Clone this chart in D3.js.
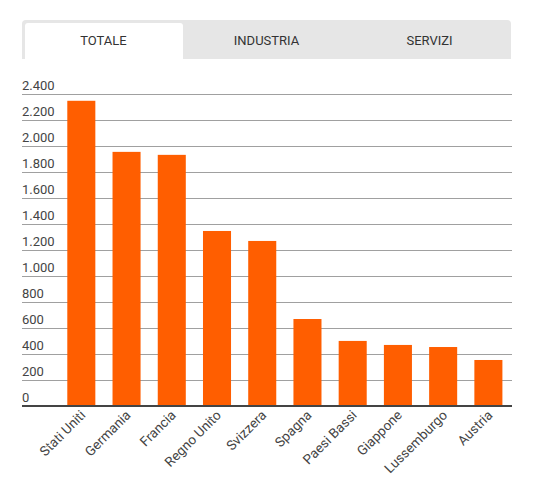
<!DOCTYPE html>
<html>
<head>
<meta charset="utf-8">
<script src="https://cdn.jsdelivr.net/npm/d3@7"></script>
<style>
  body { margin: 0; background: #fff; font-family: Roboto, sans-serif; }
</style>
</head>
<body>
<div id="chart"></div>
<script>
// Data
let tabs = ['TOTALE', 'INDUSTRIA', 'SERVIZI'];
let countries = ['Stati Uniti', 'Germania', 'Francia', 'Regno Unito', 'Svizzera',
    'Spagna', 'Paesi Bassi', 'Giappone', 'Lussemburgo', 'Austria'];
let values = [2350, 1956, 1933, 1346, 1269, 667, 498, 467, 451, 351];
let yTicks = [0, 200, 400, 600, 800, 1000, 1200, 1400, 1600, 1800, 2000, 2200, 2400];

let W = 533, H = 501;

let svg = d3.select('#chart')
    .append('svg')
    .attr('width', W)
    .attr('height', H);

// Tabs
let tabX = d3.scaleBand().domain(tabs).range([22, 511]);

svg.append('path')
    .attr('d', 'M22,59 V24 Q22,20 26,20 H507 Q511,20 511,24 V59 Z')
    .attr('fill', '#e6e6e6');

svg.append('path')
    .attr('d', 'M25,59 V26 Q25,23 28,23 H180 Q183,23 183,26 V59 Z')
    .attr('fill', '#fff');

svg.selectAll('.tab-label')
    .data(tabs)
    .enter().append('text')
    .attr('class', 'tab-label')
    .attr('x', function (d) { return tabX(d) + tabX.bandwidth() / 2; })
    .attr('y', 45)
    .attr('text-anchor', 'middle')
    .attr('font-size', '13px')
    .attr('fill', '#333')
    .text(function (d) { return d; });

// Scales
let x = d3.scaleBand()
    .domain(countries)
    .range([58.7, 511])
    .paddingInner(0.38)
    .paddingOuter(0.19);

let y = d3.scaleLinear()
    .domain([0, 2400])
    .range([405.5, 94.3]);

let fmt = function (d) { return d3.format(',')(d).replace(/,/g, '.'); };

// Grid lines
svg.selectAll('.grid')
    .data(yTicks.slice(1))
    .enter().append('line')
    .attr('x1', 22)
    .attr('x2', 512)
    .attr('y1', function (d) { return Math.round(y(d)) + 0.5; })
    .attr('y2', function (d) { return Math.round(y(d)) + 0.5; })
    .attr('stroke', '#a0a0a0')
    .attr('stroke-width', 1);

// Y labels
svg.selectAll('.ylab')
    .data(yTicks)
    .enter().append('text')
    .attr('x', 22)
    .attr('y', function (d) { return y(d) - 4; })
    .attr('font-size', '13px')
    .attr('fill', '#444')
    .text(fmt);

// Bars
svg.selectAll('.bar')
    .data(values)
    .enter().append('rect')
    .attr('x', function (d, i) { return x(countries[i]); })
    .attr('width', x.bandwidth())
    .attr('y', function (d) { return y(d); })
    .attr('height', function (d) { return y(0) - y(d); })
    .attr('fill', '#ff5e00');

// Baseline
svg.append('line')
    .attr('x1', 22)
    .attr('x2', 512)
    .attr('y1', y(0) + 0.5)
    .attr('y2', y(0) + 0.5)
    .attr('stroke', '#444')
    .attr('stroke-width', 2);

// X labels
svg.selectAll('.xlab')
    .data(countries)
    .enter().append('text')
    .attr('transform', function (d) {
        let cx = x(d) + x.bandwidth() / 2 + 5;
        return 'translate(' + cx + ',416) rotate(-45)';
    })
    .attr('text-anchor', 'end')
    .attr('font-size', '13.5px')
    .attr('fill', '#444')
    .text(function (d) { return d; });
</script>
</body>
</html>
